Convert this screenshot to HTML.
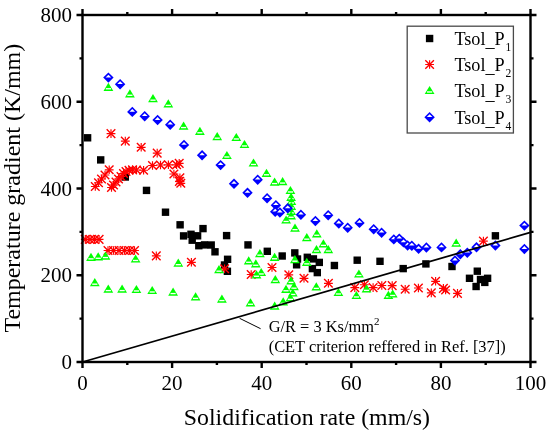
<!DOCTYPE html>
<html><head><meta charset="utf-8"><title>Temperature gradient vs solidification rate</title>
<style>html,body{margin:0;padding:0;background:#fff;width:550px;height:433px;overflow:hidden;font-family:"Liberation Serif",serif;}svg{display:block;will-change:transform;}</style>
</head><body>
<svg width="550" height="433" viewBox="0 0 550 433" font-family="'Liberation Serif', serif" fill="#000">

<rect width="550" height="433" fill="#fff"/>
<text transform="translate(72 369.2) scale(1 1.04)" text-anchor="end" font-size="21">0</text>
<text transform="translate(72 282.45) scale(1 1.04)" text-anchor="end" font-size="21">200</text>
<text transform="translate(72 195.7) scale(1 1.04)" text-anchor="end" font-size="21">400</text>
<text transform="translate(72 108.95) scale(1 1.04)" text-anchor="end" font-size="21">600</text>
<text transform="translate(72 22.2) scale(1 1.04)" text-anchor="end" font-size="21">800</text>
<text transform="translate(82.5 389.5) scale(1 1.04)" text-anchor="middle" font-size="21">0</text>
<text transform="translate(172.1 389.5) scale(1 1.04)" text-anchor="middle" font-size="21">20</text>
<text transform="translate(261.7 389.5) scale(1 1.04)" text-anchor="middle" font-size="21">40</text>
<text transform="translate(351.3 389.5) scale(1 1.04)" text-anchor="middle" font-size="21">60</text>
<text transform="translate(440.9 389.5) scale(1 1.04)" text-anchor="middle" font-size="21">80</text>
<text transform="translate(530.5 389.5) scale(1 1.04)" text-anchor="middle" font-size="21">100</text>
<text transform="translate(183.8 424.9) scale(1 1.01)" font-size="23.85">Solidification rate (mm/s)</text>
<text transform="translate(20.4 332.6) rotate(-90) scale(1 1.0)" x="0" y="0" font-size="24">Temperature gradient (K/mm)</text>
<text x="268.7" y="331.8" font-size="16.4">G/R = 3 Ks/mm<tspan font-size="11" dy="-6.5">2</tspan></text>
<text x="268.7" y="351.5" font-size="16.4">(CET criterion reffered in Ref. [37])</text>
<g fill="#000"><rect x="83.9" y="134.1" width="7.4" height="7.4"/><rect x="97" y="156.2" width="7.4" height="7.4"/><rect x="121.6" y="173.3" width="7.4" height="7.4"/><rect x="142.8" y="186.7" width="7.4" height="7.4"/><rect x="161.8" y="208.5" width="7.4" height="7.4"/><rect x="176.4" y="221.1" width="7.4" height="7.4"/><rect x="199.3" y="224.9" width="7.4" height="7.4"/><rect x="179.9" y="232.2" width="7.4" height="7.4"/><rect x="187.3" y="230.6" width="7.4" height="7.4"/><rect x="193.9" y="232.1" width="7.4" height="7.4"/><rect x="188.5" y="236.5" width="7.4" height="7.4"/><rect x="195.1" y="242" width="7.4" height="7.4"/><rect x="200.8" y="241.2" width="7.4" height="7.4"/><rect x="207.5" y="241.3" width="7.4" height="7.4"/><rect x="211.3" y="248.1" width="7.4" height="7.4"/><rect x="222.9" y="231.9" width="7.4" height="7.4"/><rect x="223.9" y="255.6" width="7.4" height="7.4"/><rect x="220.8" y="261.3" width="7.4" height="7.4"/><rect x="223.7" y="267.6" width="7.4" height="7.4"/><rect x="244.3" y="241.2" width="7.4" height="7.4"/><rect x="263.6" y="247.6" width="7.4" height="7.4"/><rect x="278.5" y="252.3" width="7.4" height="7.4"/><rect x="291.1" y="249.2" width="7.4" height="7.4"/><rect x="293.8" y="255.3" width="7.4" height="7.4"/><rect x="292.9" y="261.1" width="7.4" height="7.4"/><rect x="303.6" y="253.6" width="7.4" height="7.4"/><rect x="309.7" y="255.2" width="7.4" height="7.4"/><rect x="315.6" y="258.7" width="7.4" height="7.4"/><rect x="308.7" y="264.9" width="7.4" height="7.4"/><rect x="313.6" y="268.9" width="7.4" height="7.4"/><rect x="330.7" y="261.8" width="7.4" height="7.4"/><rect x="353.5" y="256.5" width="7.4" height="7.4"/><rect x="376.3" y="257.6" width="7.4" height="7.4"/><rect x="399.5" y="264.9" width="7.4" height="7.4"/><rect x="422.2" y="260.2" width="7.4" height="7.4"/><rect x="448.3" y="262.8" width="7.4" height="7.4"/><rect x="491.7" y="232.1" width="7.4" height="7.4"/><rect x="473.6" y="267.5" width="7.4" height="7.4"/><rect x="465.8" y="274.6" width="7.4" height="7.4"/><rect x="476.8" y="275.8" width="7.4" height="7.4"/><rect x="483.9" y="274.6" width="7.4" height="7.4"/><rect x="481.1" y="278.7" width="7.4" height="7.4"/><rect x="472.4" y="282.8" width="7.4" height="7.4"/></g>
<g stroke="#ff0000" fill="none"><path d="M111 129.3V137.9M106.6 133.6H115.4" stroke-width="1.15"/><path d="M106.7 129.3L115.3 137.9M106.7 137.9L115.3 129.3" stroke-width="1.4"/><path d="M125.3 136.8V145.4M120.9 141.1H129.7" stroke-width="1.15"/><path d="M121 136.8L129.6 145.4M121 145.4L129.6 136.8" stroke-width="1.4"/><path d="M141.2 143V151.6M136.8 147.3H145.6" stroke-width="1.15"/><path d="M136.9 143L145.5 151.6M136.9 151.6L145.5 143" stroke-width="1.4"/><path d="M157.2 148.8V157.4M152.8 153.1H161.6" stroke-width="1.15"/><path d="M152.9 148.8L161.5 157.4M152.9 157.4L161.5 148.8" stroke-width="1.4"/><path d="M95.3 182.2V190.8M90.9 186.5H99.7" stroke-width="1.15"/><path d="M91 182.2L99.6 190.8M91 190.8L99.6 182.2" stroke-width="1.4"/><path d="M98.5 178.4V187M94.1 182.7H102.9" stroke-width="1.15"/><path d="M94.2 178.4L102.8 187M94.2 187L102.8 178.4" stroke-width="1.4"/><path d="M101.5 174.7V183.3M97.1 179H105.9" stroke-width="1.15"/><path d="M97.2 174.7L105.8 183.3M97.2 183.3L105.8 174.7" stroke-width="1.4"/><path d="M105 170.7V179.3M100.6 175H109.4" stroke-width="1.15"/><path d="M100.7 170.7L109.3 179.3M100.7 179.3L109.3 170.7" stroke-width="1.4"/><path d="M109.2 165.5V174.1M104.8 169.8H113.6" stroke-width="1.15"/><path d="M104.9 165.5L113.5 174.1M104.9 174.1L113.5 165.5" stroke-width="1.4"/><path d="M111.5 183.2V191.8M107.1 187.5H115.9" stroke-width="1.15"/><path d="M107.2 183.2L115.8 191.8M107.2 191.8L115.8 183.2" stroke-width="1.4"/><path d="M113.5 180.7V189.3M109.1 185H117.9" stroke-width="1.15"/><path d="M109.2 180.7L117.8 189.3M109.2 189.3L117.8 180.7" stroke-width="1.4"/><path d="M116 177.7V186.3M111.6 182H120.4" stroke-width="1.15"/><path d="M111.7 177.7L120.3 186.3M111.7 186.3L120.3 177.7" stroke-width="1.4"/><path d="M118.5 174.7V183.3M114.1 179H122.9" stroke-width="1.15"/><path d="M114.2 174.7L122.8 183.3M114.2 183.3L122.8 174.7" stroke-width="1.4"/><path d="M121 172.2V180.8M116.6 176.5H125.4" stroke-width="1.15"/><path d="M116.7 172.2L125.3 180.8M116.7 180.8L125.3 172.2" stroke-width="1.4"/><path d="M123.5 169.2V177.8M119.1 173.5H127.9" stroke-width="1.15"/><path d="M119.2 169.2L127.8 177.8M119.2 177.8L127.8 169.2" stroke-width="1.4"/><path d="M126 167.2V175.8M121.6 171.5H130.4" stroke-width="1.15"/><path d="M121.7 167.2L130.3 175.8M121.7 175.8L130.3 167.2" stroke-width="1.4"/><path d="M129 166V174.6M124.6 170.3H133.4" stroke-width="1.15"/><path d="M124.7 166L133.3 174.6M124.7 174.6L133.3 166" stroke-width="1.4"/><path d="M132.5 165.4V174M128.1 169.7H136.9" stroke-width="1.15"/><path d="M128.2 165.4L136.8 174M128.2 174L136.8 165.4" stroke-width="1.4"/><path d="M136.5 165.7V174.3M132.1 170H140.9" stroke-width="1.15"/><path d="M132.2 165.7L140.8 174.3M132.2 174.3L140.8 165.7" stroke-width="1.4"/><path d="M143.6 165.9V174.5M139.2 170.2H148" stroke-width="1.15"/><path d="M139.3 165.9L147.9 174.5M139.3 174.5L147.9 165.9" stroke-width="1.4"/><path d="M152.5 161.2V169.8M148.1 165.5H156.9" stroke-width="1.15"/><path d="M148.2 161.2L156.8 169.8M148.2 169.8L156.8 161.2" stroke-width="1.4"/><path d="M160.5 160.7V169.3M156.1 165H164.9" stroke-width="1.15"/><path d="M156.2 160.7L164.8 169.3M156.2 169.3L164.8 160.7" stroke-width="1.4"/><path d="M168.4 160.5V169.1M164 164.8H172.8" stroke-width="1.15"/><path d="M164.1 160.5L172.7 169.1M164.1 169.1L172.7 160.5" stroke-width="1.4"/><path d="M176.6 160.5V169.1M172.2 164.8H181" stroke-width="1.15"/><path d="M172.3 160.5L180.9 169.1M172.3 169.1L180.9 160.5" stroke-width="1.4"/><path d="M179.2 159.1V167.7M174.8 163.4H183.6" stroke-width="1.15"/><path d="M174.9 159.1L183.5 167.7M174.9 167.7L183.5 159.1" stroke-width="1.4"/><path d="M173.9 169.7V178.3M169.5 174H178.3" stroke-width="1.15"/><path d="M169.6 169.7L178.2 178.3M169.6 178.3L178.2 169.7" stroke-width="1.4"/><path d="M179.9 173.4V182M175.5 177.7H184.3" stroke-width="1.15"/><path d="M175.6 173.4L184.2 182M175.6 182L184.2 173.4" stroke-width="1.4"/><path d="M179.4 177.1V185.7M175 181.4H183.8" stroke-width="1.15"/><path d="M175.1 177.1L183.7 185.7M175.1 185.7L183.7 177.1" stroke-width="1.4"/><path d="M180.8 179V187.6M176.4 183.3H185.2" stroke-width="1.15"/><path d="M176.5 179L185.1 187.6M176.5 187.6L185.1 179" stroke-width="1.4"/><path d="M85.3 235.1V243.7M80.9 239.4H89.7" stroke-width="1.15"/><path d="M81 235.1L89.6 243.7M81 243.7L89.6 235.1" stroke-width="1.4"/><path d="M89.9 235.1V243.7M85.5 239.4H94.3" stroke-width="1.15"/><path d="M85.6 235.1L94.2 243.7M85.6 243.7L94.2 235.1" stroke-width="1.4"/><path d="M94.5 235.1V243.7M90.1 239.4H98.9" stroke-width="1.15"/><path d="M90.2 235.1L98.8 243.7M90.2 243.7L98.8 235.1" stroke-width="1.4"/><path d="M99.1 235.1V243.7M94.7 239.4H103.5" stroke-width="1.15"/><path d="M94.8 235.1L103.4 243.7M94.8 243.7L103.4 235.1" stroke-width="1.4"/><path d="M108 246.2V254.8M103.6 250.5H112.4" stroke-width="1.15"/><path d="M103.7 246.2L112.3 254.8M103.7 254.8L112.3 246.2" stroke-width="1.4"/><path d="M113.5 246.2V254.8M109.1 250.5H117.9" stroke-width="1.15"/><path d="M109.2 246.2L117.8 254.8M109.2 254.8L117.8 246.2" stroke-width="1.4"/><path d="M119 246.2V254.8M114.6 250.5H123.4" stroke-width="1.15"/><path d="M114.7 246.2L123.3 254.8M114.7 254.8L123.3 246.2" stroke-width="1.4"/><path d="M124.5 246.2V254.8M120.1 250.5H128.9" stroke-width="1.15"/><path d="M120.2 246.2L128.8 254.8M120.2 254.8L128.8 246.2" stroke-width="1.4"/><path d="M129.5 246.2V254.8M125.1 250.5H133.9" stroke-width="1.15"/><path d="M125.2 246.2L133.8 254.8M125.2 254.8L133.8 246.2" stroke-width="1.4"/><path d="M134.5 246.2V254.8M130.1 250.5H138.9" stroke-width="1.15"/><path d="M130.2 246.2L138.8 254.8M130.2 254.8L138.8 246.2" stroke-width="1.4"/><path d="M156.3 251.6V260.2M151.9 255.9H160.7" stroke-width="1.15"/><path d="M152 251.6L160.6 260.2M152 260.2L160.6 251.6" stroke-width="1.4"/><path d="M191.4 258V266.6M187 262.3H195.8" stroke-width="1.15"/><path d="M187.1 258L195.7 266.6M187.1 266.6L195.7 258" stroke-width="1.4"/><path d="M224.6 264.5V273.1M220.2 268.8H229" stroke-width="1.15"/><path d="M220.3 264.5L228.9 273.1M220.3 273.1L228.9 264.5" stroke-width="1.4"/><path d="M272 263.2V271.8M267.6 267.5H276.4" stroke-width="1.15"/><path d="M267.7 263.2L276.3 271.8M267.7 271.8L276.3 263.2" stroke-width="1.4"/><path d="M251.2 270.2V278.8M246.8 274.5H255.6" stroke-width="1.15"/><path d="M246.9 270.2L255.5 278.8M246.9 278.8L255.5 270.2" stroke-width="1.4"/><path d="M288.8 270.5V279.1M284.4 274.8H293.2" stroke-width="1.15"/><path d="M284.5 270.5L293.1 279.1M284.5 279.1L293.1 270.5" stroke-width="1.4"/><path d="M304 274V282.6M299.6 278.3H308.4" stroke-width="1.15"/><path d="M299.7 274L308.3 282.6M299.7 282.6L308.3 274" stroke-width="1.4"/><path d="M328.4 279V287.6M324 283.3H332.8" stroke-width="1.15"/><path d="M324.1 279L332.7 287.6M324.1 287.6L332.7 279" stroke-width="1.4"/><path d="M354.8 283.3V291.9M350.4 287.6H359.2" stroke-width="1.15"/><path d="M350.5 283.3L359.1 291.9M350.5 291.9L359.1 283.3" stroke-width="1.4"/><path d="M364.4 280.4V289M360 284.7H368.8" stroke-width="1.15"/><path d="M360.1 280.4L368.7 289M360.1 289L368.7 280.4" stroke-width="1.4"/><path d="M373.1 283.3V291.9M368.7 287.6H377.5" stroke-width="1.15"/><path d="M368.8 283.3L377.4 291.9M368.8 291.9L377.4 283.3" stroke-width="1.4"/><path d="M381.8 281.2V289.8M377.4 285.5H386.2" stroke-width="1.15"/><path d="M377.5 281.2L386.1 289.8M377.5 289.8L386.1 281.2" stroke-width="1.4"/><path d="M392.2 281.3V289.9M387.8 285.6H396.6" stroke-width="1.15"/><path d="M387.9 281.3L396.5 289.9M387.9 289.9L396.5 281.3" stroke-width="1.4"/><path d="M405.2 284.9V293.5M400.8 289.2H409.6" stroke-width="1.15"/><path d="M400.9 284.9L409.5 293.5M400.9 293.5L409.5 284.9" stroke-width="1.4"/><path d="M418.4 283.7V292.3M414 288H422.8" stroke-width="1.15"/><path d="M414.1 283.7L422.7 292.3M414.1 292.3L422.7 283.7" stroke-width="1.4"/><path d="M431.3 288.6V297.2M426.9 292.9H435.7" stroke-width="1.15"/><path d="M427 288.6L435.6 297.2M427 297.2L435.6 288.6" stroke-width="1.4"/><path d="M435.6 277V285.6M431.2 281.3H440" stroke-width="1.15"/><path d="M431.3 277L439.9 285.6M431.3 285.6L439.9 277" stroke-width="1.4"/><path d="M443.4 284.1V292.7M439 288.4H447.8" stroke-width="1.15"/><path d="M439.1 284.1L447.7 292.7M439.1 292.7L447.7 284.1" stroke-width="1.4"/><path d="M445.6 285.7V294.3M441.2 290H450" stroke-width="1.15"/><path d="M441.3 285.7L449.9 294.3M441.3 294.3L449.9 285.7" stroke-width="1.4"/><path d="M457.5 289.1V297.7M453.1 293.4H461.9" stroke-width="1.15"/><path d="M453.2 289.1L461.8 297.7M453.2 297.7L461.8 289.1" stroke-width="1.4"/><path d="M483.4 236.8V245.4M479 241.1H487.8" stroke-width="1.15"/><path d="M479.1 236.8L487.7 245.4M479.1 245.4L487.7 236.8" stroke-width="1.4"/></g>
<g ><path d="M108.4 82.7L113.3 90.9H103.5Z" fill="#00ff00"/><rect x="105.8" y="88.1" width="5.2" height="1.35" fill="#fff"/><path d="M129.9 89.2L134.8 97.4H125Z" fill="#00ff00"/><rect x="127.3" y="94.6" width="5.2" height="1.35" fill="#fff"/><path d="M153 94.1L157.9 102.3H148.1Z" fill="#00ff00"/><rect x="150.4" y="99.5" width="5.2" height="1.35" fill="#fff"/><path d="M168.3 99.3L173.2 107.5H163.4Z" fill="#00ff00"/><rect x="165.7" y="104.7" width="5.2" height="1.35" fill="#fff"/><path d="M183.6 121.5L188.5 129.7H178.7Z" fill="#00ff00"/><rect x="181" y="126.9" width="5.2" height="1.35" fill="#fff"/><path d="M199.9 126.7L204.8 134.9H195Z" fill="#00ff00"/><rect x="197.3" y="132.1" width="5.2" height="1.35" fill="#fff"/><path d="M217.2 132.1L222.1 140.3H212.3Z" fill="#00ff00"/><rect x="214.6" y="137.5" width="5.2" height="1.35" fill="#fff"/><path d="M236.3 132.9L241.2 141.1H231.4Z" fill="#00ff00"/><rect x="233.7" y="138.3" width="5.2" height="1.35" fill="#fff"/><path d="M244.5 139.9L249.4 148.1H239.6Z" fill="#00ff00"/><rect x="241.9" y="145.3" width="5.2" height="1.35" fill="#fff"/><path d="M226.9 150.9L231.8 159.1H222Z" fill="#00ff00"/><rect x="224.3" y="156.3" width="5.2" height="1.35" fill="#fff"/><path d="M253.5 158.4L258.4 166.6H248.6Z" fill="#00ff00"/><rect x="250.9" y="163.8" width="5.2" height="1.35" fill="#fff"/><path d="M266.5 168.7L271.4 176.9H261.6Z" fill="#00ff00"/><rect x="263.9" y="174.1" width="5.2" height="1.35" fill="#fff"/><path d="M274.6 177.5L279.5 185.7H269.7Z" fill="#00ff00"/><rect x="272" y="182.9" width="5.2" height="1.35" fill="#fff"/><path d="M282.6 177L287.5 185.2H277.7Z" fill="#00ff00"/><rect x="280" y="182.4" width="5.2" height="1.35" fill="#fff"/><path d="M290.4 185.9L295.3 194.1H285.5Z" fill="#00ff00"/><rect x="287.8" y="191.3" width="5.2" height="1.35" fill="#fff"/><path d="M291.1 192.7L296 200.9H286.2Z" fill="#00ff00"/><rect x="288.5" y="198.1" width="5.2" height="1.35" fill="#fff"/><path d="M291.4 196.9L296.3 205.1H286.5Z" fill="#00ff00"/><rect x="288.8" y="202.3" width="5.2" height="1.35" fill="#fff"/><path d="M291.3 201.9L296.2 210.1H286.4Z" fill="#00ff00"/><rect x="288.7" y="207.3" width="5.2" height="1.35" fill="#fff"/><path d="M291.2 206.9L296.1 215.1H286.3Z" fill="#00ff00"/><rect x="288.6" y="212.3" width="5.2" height="1.35" fill="#fff"/><path d="M291.1 211.2L296 219.4H286.2Z" fill="#00ff00"/><rect x="288.5" y="216.6" width="5.2" height="1.35" fill="#fff"/><path d="M286.1 215.4L291 223.6H281.2Z" fill="#00ff00"/><rect x="283.5" y="220.8" width="5.2" height="1.35" fill="#fff"/><path d="M295 223.6L299.9 231.8H290.1Z" fill="#00ff00"/><rect x="292.4" y="229" width="5.2" height="1.35" fill="#fff"/><path d="M306.8 233.1L311.7 241.3H301.9Z" fill="#00ff00"/><rect x="304.2" y="238.5" width="5.2" height="1.35" fill="#fff"/><path d="M316.8 229.2L321.7 237.4H311.9Z" fill="#00ff00"/><rect x="314.2" y="234.6" width="5.2" height="1.35" fill="#fff"/><path d="M323.4 239.3L328.3 247.5H318.5Z" fill="#00ff00"/><rect x="320.8" y="244.7" width="5.2" height="1.35" fill="#fff"/><path d="M316.5 245L321.4 253.2H311.6Z" fill="#00ff00"/><rect x="313.9" y="250.4" width="5.2" height="1.35" fill="#fff"/><path d="M328.3 245L333.2 253.2H323.4Z" fill="#00ff00"/><rect x="325.7" y="250.4" width="5.2" height="1.35" fill="#fff"/><path d="M294.9 255.1L299.8 263.3H290Z" fill="#00ff00"/><rect x="292.3" y="260.5" width="5.2" height="1.35" fill="#fff"/><path d="M306.8 257.8L311.7 266H301.9Z" fill="#00ff00"/><rect x="304.2" y="263.2" width="5.2" height="1.35" fill="#fff"/><path d="M259.9 249.1L264.8 257.3H255Z" fill="#00ff00"/><rect x="257.3" y="254.5" width="5.2" height="1.35" fill="#fff"/><path d="M274.6 252.7L279.5 260.9H269.7Z" fill="#00ff00"/><rect x="272" y="258.1" width="5.2" height="1.35" fill="#fff"/><path d="M248.7 256.2L253.6 264.4H243.8Z" fill="#00ff00"/><rect x="246.1" y="261.6" width="5.2" height="1.35" fill="#fff"/><path d="M255.8 259.2L260.7 267.4H250.9Z" fill="#00ff00"/><rect x="253.2" y="264.6" width="5.2" height="1.35" fill="#fff"/><path d="M261.2 267.9L266.1 276.1H256.3Z" fill="#00ff00"/><rect x="258.6" y="273.3" width="5.2" height="1.35" fill="#fff"/><path d="M256.5 270.2L261.4 278.4H251.6Z" fill="#00ff00"/><rect x="253.9" y="275.6" width="5.2" height="1.35" fill="#fff"/><path d="M275.3 275.1L280.2 283.3H270.4Z" fill="#00ff00"/><rect x="272.7" y="280.5" width="5.2" height="1.35" fill="#fff"/><path d="M291.1 276.3L296 284.5H286.2Z" fill="#00ff00"/><rect x="288.5" y="281.7" width="5.2" height="1.35" fill="#fff"/><path d="M294 282.1L298.9 290.3H289.1Z" fill="#00ff00"/><rect x="291.4" y="287.5" width="5.2" height="1.35" fill="#fff"/><path d="M286 284.7L290.9 292.9H281.1Z" fill="#00ff00"/><rect x="283.4" y="290.1" width="5.2" height="1.35" fill="#fff"/><path d="M292.8 288.4L297.7 296.6H287.9Z" fill="#00ff00"/><rect x="290.2" y="293.8" width="5.2" height="1.35" fill="#fff"/><path d="M290.4 293.3L295.3 301.5H285.5Z" fill="#00ff00"/><rect x="287.8" y="298.7" width="5.2" height="1.35" fill="#fff"/><path d="M283.2 297.3L288.1 305.5H278.3Z" fill="#00ff00"/><rect x="280.6" y="302.7" width="5.2" height="1.35" fill="#fff"/><path d="M274.7 301.5L279.6 309.7H269.8Z" fill="#00ff00"/><rect x="272.1" y="306.9" width="5.2" height="1.35" fill="#fff"/><path d="M250.5 298.2L255.4 306.4H245.6Z" fill="#00ff00"/><rect x="247.9" y="303.6" width="5.2" height="1.35" fill="#fff"/><path d="M316.3 282.3L321.2 290.5H311.4Z" fill="#00ff00"/><rect x="313.7" y="287.7" width="5.2" height="1.35" fill="#fff"/><path d="M338.4 287.9L343.3 296.1H333.5Z" fill="#00ff00"/><rect x="335.8" y="293.3" width="5.2" height="1.35" fill="#fff"/><path d="M356.4 290.9L361.3 299.1H351.5Z" fill="#00ff00"/><rect x="353.8" y="296.3" width="5.2" height="1.35" fill="#fff"/><path d="M358.9 269.4L363.8 277.6H354Z" fill="#00ff00"/><rect x="356.3" y="274.8" width="5.2" height="1.35" fill="#fff"/><path d="M366.5 284.3L371.4 292.5H361.6Z" fill="#00ff00"/><rect x="363.9" y="289.7" width="5.2" height="1.35" fill="#fff"/><path d="M388.4 290.8L393.3 299H383.5Z" fill="#00ff00"/><rect x="385.8" y="296.2" width="5.2" height="1.35" fill="#fff"/><path d="M392.7 289.4L397.6 297.6H387.8Z" fill="#00ff00"/><rect x="390.1" y="294.8" width="5.2" height="1.35" fill="#fff"/><path d="M456.2 238.6L461.1 246.8H451.3Z" fill="#00ff00"/><rect x="453.6" y="244" width="5.2" height="1.35" fill="#fff"/><path d="M178.3 258.6L183.2 266.8H173.4Z" fill="#00ff00"/><rect x="175.7" y="264" width="5.2" height="1.35" fill="#fff"/><path d="M219 265.1L223.9 273.3H214.1Z" fill="#00ff00"/><rect x="216.4" y="270.5" width="5.2" height="1.35" fill="#fff"/><path d="M91 252.8L95.9 261H86.1Z" fill="#00ff00"/><rect x="88.4" y="258.2" width="5.2" height="1.35" fill="#fff"/><path d="M98.2 252.2L103.1 260.4H93.3Z" fill="#00ff00"/><rect x="95.6" y="257.6" width="5.2" height="1.35" fill="#fff"/><path d="M105.5 251.5L110.4 259.7H100.6Z" fill="#00ff00"/><rect x="102.9" y="256.9" width="5.2" height="1.35" fill="#fff"/><path d="M135.6 254.4L140.5 262.6H130.7Z" fill="#00ff00"/><rect x="133" y="259.8" width="5.2" height="1.35" fill="#fff"/><path d="M94.8 278.1L99.7 286.3H89.9Z" fill="#00ff00"/><rect x="92.2" y="283.5" width="5.2" height="1.35" fill="#fff"/><path d="M108.3 284.5L113.2 292.7H103.4Z" fill="#00ff00"/><rect x="105.7" y="289.9" width="5.2" height="1.35" fill="#fff"/><path d="M122.1 284.5L127 292.7H117.2Z" fill="#00ff00"/><rect x="119.5" y="289.9" width="5.2" height="1.35" fill="#fff"/><path d="M136.4 284.9L141.3 293.1H131.5Z" fill="#00ff00"/><rect x="133.8" y="290.3" width="5.2" height="1.35" fill="#fff"/><path d="M152.2 285.9L157.1 294.1H147.3Z" fill="#00ff00"/><rect x="149.6" y="291.3" width="5.2" height="1.35" fill="#fff"/><path d="M173.1 287.5L178 295.7H168.2Z" fill="#00ff00"/><rect x="170.5" y="292.9" width="5.2" height="1.35" fill="#fff"/><path d="M195.6 292.3L200.5 300.5H190.7Z" fill="#00ff00"/><rect x="193" y="297.7" width="5.2" height="1.35" fill="#fff"/><path d="M221.9 294.5L226.8 302.7H217Z" fill="#00ff00"/><rect x="219.3" y="299.9" width="5.2" height="1.35" fill="#fff"/></g>
<g ><path d="M108.4 72.4L113.6 77.6L108.4 82.8L103.2 77.6Z" fill="#0000ff"/><path d="M105.6 77.5H111.2L108.4 74.7Z" fill="#fff"/><path d="M120.1 79L125.3 84.2L120.1 89.4L114.9 84.2Z" fill="#0000ff"/><path d="M117.3 84.1H122.9L120.1 81.3Z" fill="#fff"/><path d="M132.3 106.7L137.5 111.9L132.3 117.1L127.1 111.9Z" fill="#0000ff"/><path d="M129.5 111.8H135.1L132.3 109Z" fill="#fff"/><path d="M144.7 111L149.9 116.2L144.7 121.4L139.5 116.2Z" fill="#0000ff"/><path d="M141.9 116.1H147.5L144.7 113.3Z" fill="#fff"/><path d="M157.6 114.8L162.8 120L157.6 125.2L152.4 120Z" fill="#0000ff"/><path d="M154.8 119.9H160.4L157.6 117.1Z" fill="#fff"/><path d="M170.2 119.5L175.4 124.7L170.2 129.9L165 124.7Z" fill="#0000ff"/><path d="M167.4 124.6H173L170.2 121.8Z" fill="#fff"/><path d="M184 139.7L189.2 144.9L184 150.1L178.8 144.9Z" fill="#0000ff"/><path d="M181.2 144.8H186.8L184 142Z" fill="#fff"/><path d="M202.1 150.1L207.3 155.3L202.1 160.5L196.9 155.3Z" fill="#0000ff"/><path d="M199.3 155.2H204.9L202.1 152.4Z" fill="#fff"/><path d="M220.6 159.9L225.8 165.1L220.6 170.3L215.4 165.1Z" fill="#0000ff"/><path d="M217.8 165H223.4L220.6 162.2Z" fill="#fff"/><path d="M234 178.6L239.2 183.8L234 189L228.8 183.8Z" fill="#0000ff"/><path d="M231.2 183.7H236.8L234 180.9Z" fill="#fff"/><path d="M247.5 187.6L252.7 192.8L247.5 198L242.3 192.8Z" fill="#0000ff"/><path d="M244.7 192.7H250.3L247.5 189.9Z" fill="#fff"/><path d="M257.7 174.5L262.9 179.7L257.7 184.9L252.5 179.7Z" fill="#0000ff"/><path d="M254.9 179.6H260.5L257.7 176.8Z" fill="#fff"/><path d="M267.1 193L272.3 198.2L267.1 203.4L261.9 198.2Z" fill="#0000ff"/><path d="M264.3 198.1H269.9L267.1 195.3Z" fill="#fff"/><path d="M275.9 200L281.1 205.2L275.9 210.4L270.7 205.2Z" fill="#0000ff"/><path d="M273.1 205.1H278.7L275.9 202.3Z" fill="#fff"/><path d="M275.2 206.5L280.4 211.7L275.2 216.9L270 211.7Z" fill="#0000ff"/><path d="M272.4 211.6H278L275.2 208.8Z" fill="#fff"/><path d="M279.9 207.3L285.1 212.5L279.9 217.7L274.7 212.5Z" fill="#0000ff"/><path d="M277.1 212.4H282.7L279.9 209.6Z" fill="#fff"/><path d="M287.7 203.1L292.9 208.3L287.7 213.5L282.5 208.3Z" fill="#0000ff"/><path d="M284.9 208.2H290.5L287.7 205.4Z" fill="#fff"/><path d="M300.9 209.5L306.1 214.7L300.9 219.9L295.7 214.7Z" fill="#0000ff"/><path d="M298.1 214.6H303.7L300.9 211.8Z" fill="#fff"/><path d="M315.4 215.8L320.6 221L315.4 226.2L310.2 221Z" fill="#0000ff"/><path d="M312.6 220.9H318.2L315.4 218.1Z" fill="#fff"/><path d="M328.2 210L333.4 215.2L328.2 220.4L323 215.2Z" fill="#0000ff"/><path d="M325.4 215.1H331L328.2 212.3Z" fill="#fff"/><path d="M338.8 218.3L344 223.5L338.8 228.7L333.6 223.5Z" fill="#0000ff"/><path d="M336 223.4H341.6L338.8 220.6Z" fill="#fff"/><path d="M347.7 222.5L352.9 227.7L347.7 232.9L342.5 227.7Z" fill="#0000ff"/><path d="M344.9 227.6H350.5L347.7 224.8Z" fill="#fff"/><path d="M359.5 217.7L364.7 222.9L359.5 228.1L354.3 222.9Z" fill="#0000ff"/><path d="M356.7 222.8H362.3L359.5 220Z" fill="#fff"/><path d="M373.7 224L378.9 229.2L373.7 234.4L368.5 229.2Z" fill="#0000ff"/><path d="M370.9 229.1H376.5L373.7 226.3Z" fill="#fff"/><path d="M381.6 227.5L386.8 232.7L381.6 237.9L376.4 232.7Z" fill="#0000ff"/><path d="M378.8 232.6H384.4L381.6 229.8Z" fill="#fff"/><path d="M393.8 234.2L399 239.4L393.8 244.6L388.6 239.4Z" fill="#0000ff"/><path d="M391 239.3H396.6L393.8 236.5Z" fill="#fff"/><path d="M399.3 233.4L404.5 238.6L399.3 243.8L394.1 238.6Z" fill="#0000ff"/><path d="M396.5 238.5H402.1L399.3 235.7Z" fill="#fff"/><path d="M403.5 237.2L408.7 242.4L403.5 247.6L398.3 242.4Z" fill="#0000ff"/><path d="M400.7 242.3H406.3L403.5 239.5Z" fill="#fff"/><path d="M407.6 240.3L412.8 245.5L407.6 250.7L402.4 245.5Z" fill="#0000ff"/><path d="M404.8 245.4H410.4L407.6 242.6Z" fill="#fff"/><path d="M411.8 240.5L417 245.7L411.8 250.9L406.6 245.7Z" fill="#0000ff"/><path d="M409 245.6H414.6L411.8 242.8Z" fill="#fff"/><path d="M418.6 243.6L423.8 248.8L418.6 254L413.4 248.8Z" fill="#0000ff"/><path d="M415.8 248.7H421.4L418.6 245.9Z" fill="#fff"/><path d="M426.4 242.3L431.6 247.5L426.4 252.7L421.2 247.5Z" fill="#0000ff"/><path d="M423.6 247.4H429.2L426.4 244.6Z" fill="#fff"/><path d="M441.5 242.2L446.7 247.4L441.5 252.6L436.3 247.4Z" fill="#0000ff"/><path d="M438.7 247.3H444.3L441.5 244.5Z" fill="#fff"/><path d="M455 255.3L460.2 260.5L455 265.7L449.8 260.5Z" fill="#0000ff"/><path d="M452.2 260.4H457.8L455 257.6Z" fill="#fff"/><path d="M460.3 249.1L465.5 254.3L460.3 259.5L455.1 254.3Z" fill="#0000ff"/><path d="M457.5 254.2H463.1L460.3 251.4Z" fill="#fff"/><path d="M467.3 247.5L472.5 252.7L467.3 257.9L462.1 252.7Z" fill="#0000ff"/><path d="M464.5 252.6H470.1L467.3 249.8Z" fill="#fff"/><path d="M476.5 242.1L481.7 247.3L476.5 252.5L471.3 247.3Z" fill="#0000ff"/><path d="M473.7 247.2H479.3L476.5 244.4Z" fill="#fff"/><path d="M495.4 240.3L500.6 245.5L495.4 250.7L490.2 245.5Z" fill="#0000ff"/><path d="M492.6 245.4H498.2L495.4 242.6Z" fill="#fff"/><path d="M524.4 220.4L529.6 225.6L524.4 230.8L519.2 225.6Z" fill="#0000ff"/><path d="M521.6 225.5H527.2L524.4 222.7Z" fill="#fff"/><path d="M524.4 243.8L529.6 249L524.4 254.2L519.2 249Z" fill="#0000ff"/><path d="M521.6 248.9H527.2L524.4 246.1Z" fill="#fff"/></g>
<rect x="82.5" y="15" width="448" height="347" fill="none" stroke="#000" stroke-width="2.4"/>
<path d="M82.5 362V368M82.5 15V9M127.3 362V365M127.3 15V12M172.1 362V368M172.1 15V9M216.9 362V365M216.9 15V12M261.7 362V368M261.7 15V9M306.5 362V365M306.5 15V12M351.3 362V368M351.3 15V9M396.1 362V365M396.1 15V12M440.9 362V368M440.9 15V9M485.7 362V365M485.7 15V12M530.5 362V368M530.5 15V9M82.5 362H76.5M530.5 362H536.5M82.5 318.62H79.5M530.5 318.62H533.5M82.5 275.25H76.5M530.5 275.25H536.5M82.5 231.88H79.5M530.5 231.88H533.5M82.5 188.5H76.5M530.5 188.5H536.5M82.5 145.12H79.5M530.5 145.12H533.5M82.5 101.75H76.5M530.5 101.75H536.5M82.5 58.38H79.5M530.5 58.38H533.5M82.5 15H76.5M530.5 15H536.5" stroke="#000" stroke-width="2.4" fill="none"/>
<path d="M82.5 362L530.5 232.38" stroke="#000" stroke-width="1.75" fill="none"/>
<path d="M239.6 318.3L260.6 328.7" stroke="#000" stroke-width="1" fill="none"/>
<rect x="407.2" y="26.2" width="106.2" height="106.8" fill="#fff" stroke="#4a4a4a" stroke-width="1.3"/>
<g fill="#000"><rect x="425.9" y="34.8" width="7.4" height="7.4"/></g>
<text transform="translate(454.4 44.6) scale(1 1.05)" font-size="18.2">Tsol<tspan dy="2.4">_</tspan><tspan dy="-2.4">P</tspan><tspan font-size="11.6" dx="0.9" dy="5.9">1</tspan></text>
<g stroke="#ff0000" fill="none"><path d="M429.6 60.2V68.8M425.2 64.5H434" stroke-width="1.15"/><path d="M425.3 60.2L433.9 68.8M425.3 68.8L433.9 60.2" stroke-width="1.4"/></g>
<text transform="translate(454.4 70.9) scale(1 1.05)" font-size="18.2">Tsol<tspan dy="2.4">_</tspan><tspan dy="-2.4">P</tspan><tspan font-size="11.6" dx="0.9" dy="5.9">2</tspan></text>
<g ><path d="M429.6 85.9L434.5 94.1H424.7Z" fill="#00ff00"/><rect x="427" y="91.3" width="5.2" height="1.35" fill="#fff"/></g>
<text transform="translate(454.4 97.2) scale(1 1.05)" font-size="18.2">Tsol<tspan dy="2.4">_</tspan><tspan dy="-2.4">P</tspan><tspan font-size="11.6" dx="0.9" dy="5.9">3</tspan></text>
<g ><path d="M429.6 112L434.8 117.2L429.6 122.4L424.4 117.2Z" fill="#0000ff"/><path d="M426.8 117.1H432.4L429.6 114.3Z" fill="#fff"/></g>
<text transform="translate(454.4 123.5) scale(1 1.05)" font-size="18.2">Tsol<tspan dy="2.4">_</tspan><tspan dy="-2.4">P</tspan><tspan font-size="11.6" dx="0.9" dy="5.9">4</tspan></text>

</svg>
</body></html>
